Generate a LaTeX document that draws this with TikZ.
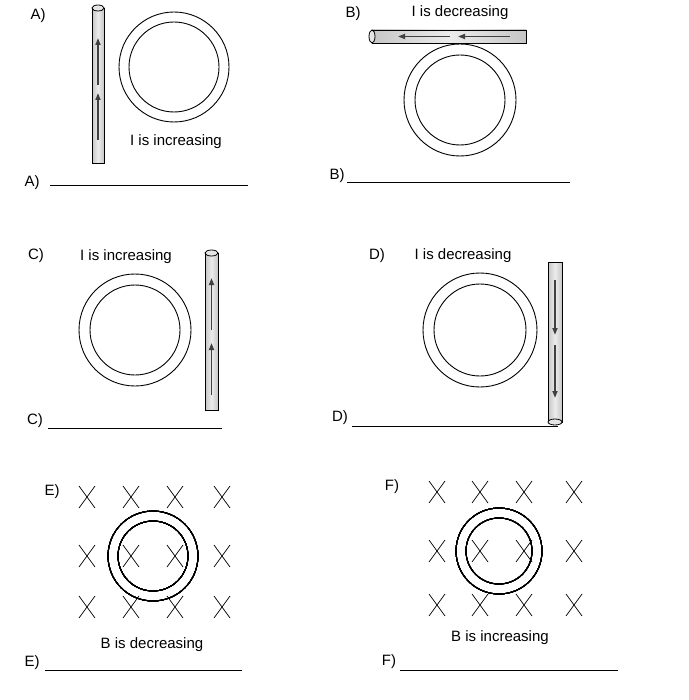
\documentclass[tikz,border=0pt]{standalone}
\usepackage{fontspec}
\setmainfont{Liberation Sans}
\usetikzlibrary{arrows.meta}
\tikzset{
  lbl/.style={font=\fontsize{15}{18}\selectfont, inner sep=0pt},
  ring/.style={line width=0.9pt},
  wire/.style={draw, line width=0.8pt, left color=gray!45, right color=gray!45, middle color=gray!15},
  flow/.style={line width=1.6pt, black!75, -{Triangle[length=7pt,width=5pt]}},
  answer/.style={line width=0.8pt},
  xmark/.style={line width=0.7pt}
}
\newcommand{\crossat}[2]{\draw[xmark] (#1-8,#2-11) -- (#1+8,#2+11) (#1-8,#2+11) -- (#1+8,#2-11);}
\begin{document}
\begin{tikzpicture}[x=1pt,y=-1pt]
\useasboundingbox (0,0) rectangle (688,700);
% A
\node[lbl] (labA) at (38,16) {A)};
\shade[wire] (92,8) rectangle (104,163);
\draw[line width=0.8pt, fill=gray!20] (98,8) ellipse (6 and 3);
\draw[flow] (98,85) -- (98,38);
\draw[flow] (98,140) -- (98,93);
\draw[ring] (174,67) circle (55) circle (45);
\node[lbl] (txtA) at (176,142) {I is increasing};
\node[lbl] (ansA) at (32,183) {A)};
\draw[answer] (50,185) -- (248,185);
% B
\node[lbl] (labB) at (353,14) {B)};
\node[lbl] (txtB) at (460,13) {I is decreasing};
\shade[wire] (372,30) rectangle (526,43);
\draw[line width=0.8pt, fill=gray!20] (372,36.5) ellipse (3 and 6.5);
\draw[flow] (450,36.5) -- (398,36.5);
\draw[flow] (510,36.5) -- (458,36.5);
\draw[ring] (460,100) circle (56) circle (45);
\node[lbl] (ansB) at (337,176) {B)};
\draw[answer] (347,182) -- (570,182);
% C
\node[lbl] (labC) at (36,256) {C)};
\node[lbl] (txtC) at (126,257) {I is increasing};
\shade[wire] (205,253) rectangle (218,410);
\draw[line width=0.8pt, fill=gray!20] (211.5,253) ellipse (6.5 and 3);
\draw[flow] (211.5,330) -- (211.5,278);
\draw[flow] (211.5,395) -- (211.5,343);
\draw[ring] (135,330) circle (56) circle (45);
\node[lbl] (ansC) at (35,421) {C)};
\draw[answer] (48,428) -- (222,428);
% D
\node[lbl] (labD) at (377,256) {D)};
\node[lbl] (txtD) at (463,256) {I is decreasing};
\shade[wire] (548,262) rectangle (562,422);
\draw[line width=0.8pt, fill=gray!20] (555,422) ellipse (7 and 3);
\draw[line width=0.8pt] (548,262) -- (562,262);
\draw[flow] (555,280) -- (555,335);
\draw[flow] (555,345) -- (555,398);
\draw[ring] (480,330) circle (57) circle (46);
\node[lbl] (ansD) at (340,418) {D)};
\draw[answer] (352,426) -- (558,426);
% E
\node[lbl] (labE) at (52,492) {E)};
\foreach \cx in {87,131,175,222}
  \foreach \cy in {497,556,607}
    \crossat{\cx}{\cy}
\draw[ring] (153,556) circle (45) circle (35);
\node[lbl] (txtE) at (152,645) {B is decreasing};
\node[lbl] (ansE) at (32,663) {E)};
\draw[answer] (45,670) -- (242,670);
% F
\node[lbl] (labF) at (392,487) {F)};
\foreach \cx in {437,480,524,574}
  \foreach \cy in {492,551,605}
    \crossat{\cx}{\cy}
\draw[ring] (499,551) circle (43) circle (33);
\node[lbl] (txtF) at (500,638) {B is increasing};
\node[lbl] (ansF) at (389,662) {F)};
\draw[answer] (400,670) -- (618,670);
\end{tikzpicture}
\end{document}
